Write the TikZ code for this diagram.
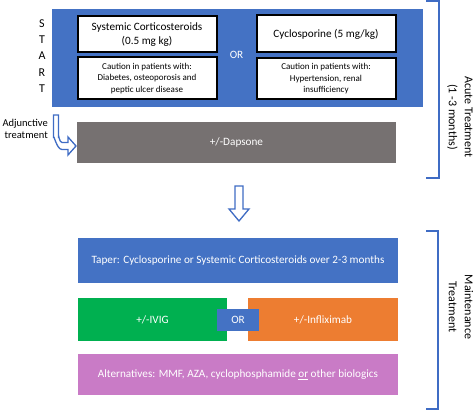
\documentclass[tikz,border=0pt]{standalone}
\usepackage{fontspec}
\setmainfont{Carlito}
\usetikzlibrary{positioning, calc}

\definecolor{boxblue}{HTML}{4472C4}
\definecolor{boxgray}{HTML}{767171}
\definecolor{boxgreen}{HTML}{00B050}
\definecolor{boxorange}{HTML}{ED7D31}
\definecolor{boxpurple}{HTML}{C97BC6}
\definecolor{linkblue}{HTML}{3F6CC4}

\begin{document}
\begin{tikzpicture}[x=1pt, y=-1pt, font=\fontsize{11.2}{14}\selectfont,
  fillbox/.style={inner sep=0pt, align=center, text=white},
  whitebox/.style={draw=black, line width=2pt, fill=white, inner sep=0pt, align=center},
  smalltext/.style={font=\fontsize{9}{11.5}\selectfont},
  sidetext/.style={rotate=-90, align=center, font=\fontsize{12}{16}\selectfont},
  bracket/.style={linkblue, line width=1.6pt},
  hollow/.style={draw=linkblue, line width=1.3pt, fill=white, line join=miter}]
  \useasboundingbox (0,0) rectangle (474,411);

  % --- Acute phase: START column and the two first-line options
  \node[fill=boxblue, minimum width=371pt, minimum height=98pt] (acute) at (237.5,58) {};
  \foreach \ch [count=\i] in {S,T,A,R,T} {
    \node[font=\fontsize{12}{12}\selectfont] (start\i) at (42,{7+16.3*\i}) {\ch};
  }

  \node[whitebox, minimum width=139pt, minimum height=36pt] (steroid) at (147,34.5)
    {Systemic Corticosteroids\\(0.5 mg kg)};
  \node[whitebox, smalltext, minimum width=139pt, minimum height=42pt] (steroidwarn) at (147,78.5)
    {Caution in patients with:\\Diabetes, osteoporosis and\\peptic ulcer disease};
  \node[whitebox, minimum width=139pt, minimum height=37pt] (cyclo) at (326,34)
    {Cyclosporine (5 mg/kg)};
  \node[whitebox, smalltext, minimum width=139pt, minimum height=41pt] (cyclowarn) at (326,79)
    {Caution in patients with:\\Hypertension, renal\\insufficiency};
  \node[text=white] (or1) at (236.5,55) {OR};

  % --- Adjunctive treatment
  \node[font=\fontsize{10.5}{12}\selectfont, align=right, anchor=east, inner sep=1pt] (adj) at (49,129)
    {Adjunctive\\treatment};
  \node[fillbox, fill=boxgray, minimum width=319pt, minimum height=41pt] (dapsone) at (236.5,142.5)
    {+/-Dapsone};

  % hollow bent arrow into the dapsone box
  \draw[hollow] (53.5,115) -- (58.5,115) -- (58.5,136) to[out=90,in=180] (62,142.5)
    -- (68,142.5) -- (68,137) -- (76,146) -- (68,155) -- (68,149.5) -- (62,149.5)
    to[out=180,in=90] (53.5,138) -- cycle;

  % --- Bracket for the acute phase
  \draw[bracket] (426,1) -- (439,1) -- (439,178) -- (426,178);
  \node[sidetext] (acutelbl) at (460,117) {Acute Treatment\\(1 -3 months)};

  % --- Hollow down arrow to maintenance
  \draw[hollow] (235,186) -- (243,186) -- (243,209) -- (249,209) -- (239,221)
    -- (229,209) -- (235,209) -- cycle;

  % --- Maintenance phase
  \node[fillbox, fill=boxblue, minimum width=320pt, minimum height=45pt] (taper) at (238,260.5)
    {Taper: Cyclosporine or Systemic Corticosteroids over 2-3 months};
  \node[fillbox, fill=boxgreen, minimum width=149pt, minimum height=43pt] (ivig) at (152.5,319.5)
    {+/-IVIG};
  \node[fillbox, fill=boxorange, minimum width=150pt, minimum height=43pt] (infli) at (323,319.5)
    {+/-Infliximab};
  \node[fillbox, fill=boxblue, minimum width=42pt, minimum height=22pt] (or2) at (238,320)
    {OR};
  \node[fillbox, fill=boxpurple, minimum width=320pt, minimum height=41pt] (alt) at (238,374.5)
    {Alternatives: MMF, AZA, cyclophosphamide \underline{or} other biologics};

  % --- Bracket for the maintenance phase
  \draw[bracket] (426,231) -- (438,231) -- (438,409) -- (426,409);
  \node[sidetext] (mainlbl) at (461,307) {Maintenance\\Treatment};
\end{tikzpicture}
\end{document}
